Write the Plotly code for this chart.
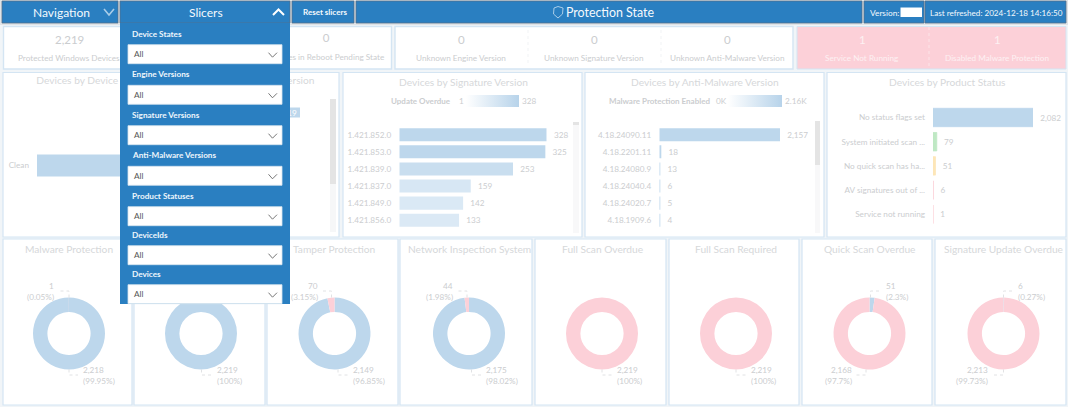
import plotly.graph_objects as go

W = 1068
H = 407
FONT = "Lato"
BLUE = "#2a7fc1"
BAR_BLUE = "#bdd7ec"
PINK = "#fcd0d8"
GREEN = "#bfe8c4"
YELLOW = "#fde6b8"
TITLE_GREY = "#d6d8da"
LABEL_GREY = "#cbcdcf"
CARD_LINE = "#d4e5f3"
SMALL = 8.2
TITLE = 10.2

# ---------------------------- data ----------------------------
state_cats = ["Clean"]
state_vals = [2219]
engine_cats = [""]
engine_vals = [2219]
sig_cats = ["1.421.852.0", "1.421.853.0", "1.421.839.0", "1.421.837.0", "1.421.849.0", "1.421.856.0"]
sig_vals = [328, 325, 253, 159, 142, 133]
am_cats = ["4.18.24090.11", "4.18.2201.11", "4.18.24080.9", "4.18.24040.4", "4.18.24020.7", "4.18.1909.6"]
am_vals = [2157, 18, 13, 6, 5, 4]
status_cats = ["No status flags set", "System initiated scan ...", "No quick scan has ha...", "AV signatures out of ...", "Service not running"]
status_vals = [2082, 79, 51, 6, 1]
status_colors = [BAR_BLUE, GREEN, YELLOW, PINK, PINK]

donut_titles = ["Malware Protection", "", "Tamper Protection", "Network Inspection System",
                "Full Scan Overdue", "Full Scan Required", "Quick Scan Overdue", "Signature Update Overdue"]
donut_first = [2218, 2219, 2149, 2175, 0, 0, 51, 6]
donut_second = [1, 0, 70, 44, 2219, 2219, 2168, 2213]

kpi_labels = ["Protected Windows Devices", "Devices in Reboot Pending State", "Unknown Engine Version",
              "Unknown Signature Version", "Unknown Anti-Malware Version", "Service Not Running",
              "Disabled Malware Protection"]
kpi_vals = [2219, 0, 0, 0, 0, 1, 1]
slicer_labels = ["Device States", "Engine Versions", "Signature Versions", "Anti-Malware Versions",
                 "Product Statuses", "DeviceIds", "Devices"]

# ---------------------------- layout positions ----------------------------
donut_cx = [69, 201, 334.5, 469, 602, 736, 869.5, 1003.5]
donut_cy = 333.5
donut_r = 36
card_edges = [(3, 132), (134, 265), (267, 398), (400, 532), (535, 666), (669, 799), (802, 932), (935, 1066)]
kpi_x = [69, 326, 461, 594, 727, 862, 997]

shapes = []
annots = []
traces = []


def box(x0, y0, x1, y1, fill, line=None, lw=1, layer="below"):
    shapes.append(dict(type="rect", xref="x", yref="y", x0=x0, y0=y0, x1=x1, y1=y1, fillcolor=fill,
                       line=dict(color=line or fill, width=lw if line else 0), layer=layer))


def path(pts, color, lw=1, dash="solid", layer="above"):
    d = "M" + " L".join(f"{a},{b}" for a, b in pts)
    shapes.append(dict(type="path", xref="x", yref="y", path=d, line=dict(color=color, width=lw, dash=dash),
                       layer=layer))


def label(x, y, text, size=SMALL, color=LABEL_GREY, anchor="center"):
    annots.append(dict(x=x, y=y, xref="x", yref="y", text=text, showarrow=False, xanchor=anchor, yanchor="middle",
                       font=dict(family=FONT, size=size, color=color), borderpad=0))


def under_label(x, y, text, size=SMALL, color=LABEL_GREY):
    # text sitting behind the slicer panel has to be a trace, annotations always draw on top
    traces.append(go.Scatter(x=[x], y=[y], mode="text", text=[text], textposition="middle center",
                             textfont=dict(family=FONT, size=size, color=color), cliponaxis=False,
                             hoverinfo="skip", xaxis="x", yaxis="y", showlegend=False))


def gradient(x0, y0, x1, y1):
    traces.append(go.Scatter(x=[x0, x1, x1, x0, x0], y=[y0, y0, y1, y1, y0], mode="lines", line=dict(width=0),
                             fill="toself", hoverinfo="skip", xaxis="x", yaxis="y", showlegend=False,
                             fillgradient=dict(type="horizontal", colorscale=[[0, "#ffffff"], [1, "#b7d3ea"]])))


# ---------------------------- header ----------------------------
box(0, 0, W, H, "#f1f5f8")
box(0, 0, W, 25, "#e1e4e7")
for x0, x1, txt, size, tx in [(2, 118, "Navigation", 12, 61), (120, 290, "Slicers", 12, 206),
                              (292, 354, "<b>Reset slicers</b>", 8, 324.5),
                              (356, 862, "Protection State", 12.4, 610), (864, 924, "", 8, 0), (925, 1066, "", 8, 0)]:
    box(x0, 1, x1, 23, BLUE, "#53708a", 0.8)
    if txt:
        label(tx, 12, txt, size, "#f4f9fd")
label(869, 12.5, "Version:", 8.3, "#f4f9fd", "left")
box(900.5, 7.5, 922, 17, "#ffffff")
label(996, 12.5, "Last refreshed: 2024-12-18 14:16:50", 8.1, "#f4f9fd")
path([(104, 9), (109, 15), (114, 9)], "#a9cde8", 1.6)
path([(554, 8), (558, 6.5), (563, 8), (562.5, 14), (558, 18), (553.5, 14), (554, 8)], "#a9cde8", 1)

# ---------------------------- KPI row ----------------------------
box(3.5, 26.5, 391.5, 69, "#ffffff", CARD_LINE, 1.4)
box(395, 26.5, 793, 69, "#ffffff", CARD_LINE, 1.4)
box(797, 26.5, 1066, 69, PINK, CARD_LINE, 1)
path([(528, 30), (528, 66)], "#edf0f2", 0.8, "dot", "below")
path([(661, 30), (661, 66)], "#edf0f2", 0.8, "dot", "below")
path([(929, 27), (929, 68)], "#fdeaee", 0.8, "dot", "below")
for i, (lab, val) in enumerate(zip(kpi_labels, kpi_vals)):
    col = "#fdf1f3" if i >= 5 else LABEL_GREY
    if i == 1:
        under_label(kpi_x[i], 39, f"{val:,}", 11.5, col)
        under_label(kpi_x[i], 58, lab, SMALL, col)
    else:
        label(kpi_x[i], 39.5, f"{val:,}", 11.5, col)
        label(kpi_x[i], 58, lab, SMALL, col)

# ---------------------------- middle row cards ----------------------------
for x0, x1 in [(3, 205), (207, 339), (343, 582), (585, 824), (827, 1066)]:
    box(x0, 72.5, x1, 237, "#ffffff", CARD_LINE, 1.2)
under_label(90, 81.5, "Devices by Device State", TITLE, TITLE_GREY)
under_label(256, 81.5, "Devices by Engine Version", TITLE, TITLE_GREY)
label(463, 81.5, "Devices by Signature Version", TITLE, TITLE_GREY)
label(705, 81.5, "Devices by Anti-Malware Version", TITLE, TITLE_GREY)
label(947.5, 81.5, "Devices by Product Status", TITLE, TITLE_GREY)

# legend strips over the two bar charts
label(452, 101, "<b>Update Overdue</b>", 8, LABEL_GREY, "right")
label(461, 101, "1")
gradient(466, 95, 519, 107)
label(521, 101, str(max(sig_vals)), SMALL, LABEL_GREY, "left")
label(711, 101, "<b>Malware Protection Enabled</b>", 8, LABEL_GREY, "right")
label(721.5, 101, "0K")
gradient(728, 95, 782, 107)
label(784, 101, "2.16K", SMALL, LABEL_GREY, "left")

# scrollbars
box(330, 99, 336, 232, "#f6f7f8")
box(330, 99, 336, 184, "#e4e4e4")
box(573, 122, 579, 233, "#f8f8f9")
box(573, 122, 579, 125, "#e4e4e4")
box(815, 121, 820, 233, "#f8f8f9")
box(815, 121, 820, 165, "#e4e4e4")

# ---------------------------- bars ----------------------------
bar_axes = {}


def hbar(n, cats, vals, x0, x1, y0, y1, gap, colors, xmax, pos="outside", tcol=LABEL_GREY, standoff=7):
    traces.append(go.Bar(y=cats, x=vals, orientation="h", xaxis=f"x{n}", yaxis=f"y{n}", marker=dict(color=colors, line=dict(width=0)),
                         text=[f"  {v:,}" for v in vals] if pos == "outside" else [f"{v:,}" for v in vals], textposition=pos, cliponaxis=False, constraintext="none",
                         textfont=dict(family=FONT, size=SMALL, color=tcol), hoverinfo="skip", showlegend=False))
    bar_axes[f"xaxis{n}"] = dict(domain=[x0 / W, x1 / W], range=[0, xmax], visible=False, fixedrange=True, anchor=f"y{n}")
    bar_axes[f"yaxis{n}"] = dict(domain=[1 - y1 / H, 1 - y0 / H], autorange="reversed", anchor=f"x{n}", type="category",
                                 showline=False, showgrid=False, zeroline=False, ticks="", ticklabelstandoff=standoff,
                                 tickfont=dict(family=FONT, size=SMALL, color=LABEL_GREY), fixedrange=True)
    bar_axes["bargap"] = gap


hbar(2, state_cats, state_vals, 37, 190, 151, 180, 0, BAR_BLUE, max(state_vals))
hbar(3, engine_cats, engine_vals, 215, 300, 106, 119, 0, BAR_BLUE, max(engine_vals), "inside", "#ffffff")
sig_scale = [[0, "#f0f6fb"], [1, BAR_BLUE]]
hbar(4, sig_cats, sig_vals, 399.3, 546.7, 126.1, 228.8, 0.21, BAR_BLUE, max(sig_vals))
traces[-1].marker.update(color=sig_vals, colorscale=sig_scale, cmin=1, cmax=max(sig_vals))
hbar(5, am_cats, am_vals, 659.3, 780, 126.1, 228.8, 0.21, BAR_BLUE, max(am_vals))
hbar(6, status_cats, status_vals, 933, 1033, 105.4, 226.4, 0.24, status_colors, max(status_vals))
traces[-1].marker.line.update(color=status_colors, width=0.8)

# ---------------------------- donuts ----------------------------
fmt_pct = lambda v, t: f"({round(100 * v / t, 2):g}%)"

for i, (t, a, b) in enumerate(zip(donut_titles, donut_first, donut_second)):
    x0, x1 = card_edges[i]
    box(x0, 239, x1, 405, "#ffffff", CARD_LINE, 1.2)
    cx = donut_cx[i]
    if t:
        label(cx, 249, t, TITLE, TITLE_GREY)
    traces.append(go.Pie(values=[a, b], sort=False, direction="clockwise", rotation=0, hole=0.6, textinfo="none",
                         marker=dict(colors=[BAR_BLUE, PINK], line=dict(width=0)), hoverinfo="skip", showlegend=False,
                         domain=dict(x=[(cx - donut_r) / W, (cx + donut_r) / W],
                                     y=[1 - (donut_cy + donut_r) / H, 1 - (donut_cy - donut_r) / H])))

LEAD = "#d9dbdd"
# leader lines and labels: index, value, attach x, bend end x, text x, anchor
big_side = [(0, donut_first[0], 69, 78, 82, "left"), (1, donut_first[1], 201.5, 212, 215.5, "left"),
            (2, donut_first[2], 338, 349, 352, "left"), (3, donut_first[3], 471.5, 483, 485, "left"),
            (4, donut_second[4], 602, 613, 615.5, "left"), (5, donut_second[5], 736, 747, 749.5, "left"),
            (6, donut_second[6], 866, 856, 853, "right"), (7, donut_second[7], 1003.5, 992, 989, "right")]
for i, v, ax, ex, tx, anc in big_side:
    total = donut_first[i] + donut_second[i]
    path([(ax, 369.5), (ax, 375), (ex, 375)], LEAD, 0.8, "dot")
    label(tx, 369.5, f"{v:,}", SMALL, LABEL_GREY, anc)
    label(tx, 381, fmt_pct(v, total), SMALL, LABEL_GREY, anc)

small_side = [(0, donut_second[0], 69, 58, 55, "right"), (2, donut_second[2], 331.5, 322, 319, "right"),
              (3, donut_second[3], 467, 458, 454, "right"), (6, donut_first[6], 870.5, 881, 884.5, "left"),
              (7, donut_first[7], 1003.5, 1014.5, 1017, "left")]
for i, v, ax, ex, tx, anc in small_side:
    total = donut_first[i] + donut_second[i]
    path([(ax, 297.5), (ax, 291), (ex, 291)], LEAD, 0.8, "dot")
    label(tx, 286, f"{v:,}", SMALL, LABEL_GREY, anc)
    label(tx, 297, fmt_pct(v, total), SMALL, LABEL_GREY, anc)

# ---------------------------- slicer panel, above everything ----------------------------
box(120, 23, 290, 304, BLUE, layer="above")
label_y = [33.7, 74.3, 114.7, 155, 195.7, 234.7, 273.7]
box_y = [44.7, 85.3, 125.7, 166.3, 206.7, 245.7, 284.7]
for lab, ly, by in zip(slicer_labels, label_y, box_y):
    label(131, ly, f"<b>{lab}</b>", SMALL, "#eef6fc", "left")
    box(128, by, 282, by + 19, "#ffffff", "#d5e3ee", 0.8, "above")
    label(133, by + 9.5, "All", SMALL, "#555555", "left")
    path([(268.5, by + 8), (272.5, by + 12.5), (277, by + 8)], "#666666", 0.9)
path([(273, 15), (278.5, 9.5), (284, 15)], "#ffffff", 2)

fig = go.Figure(data=traces)
fig.update_layout(
    width=W, height=H, margin=dict(l=0, r=0, t=0, b=0), paper_bgcolor="#f1f5f8", plot_bgcolor="rgba(0,0,0,0)",
    showlegend=False, shapes=shapes, annotations=annots,
    xaxis=dict(domain=[0, 1], range=[0, W], visible=False, fixedrange=True),
    yaxis=dict(domain=[0, 1], range=[H, 0], visible=False, fixedrange=True),
    **bar_axes,
)

fig.write_html("out.html", config=dict(displayModeBar=False),
               post_script="document.body.style.margin='0';document.body.style.overflow='hidden';")
